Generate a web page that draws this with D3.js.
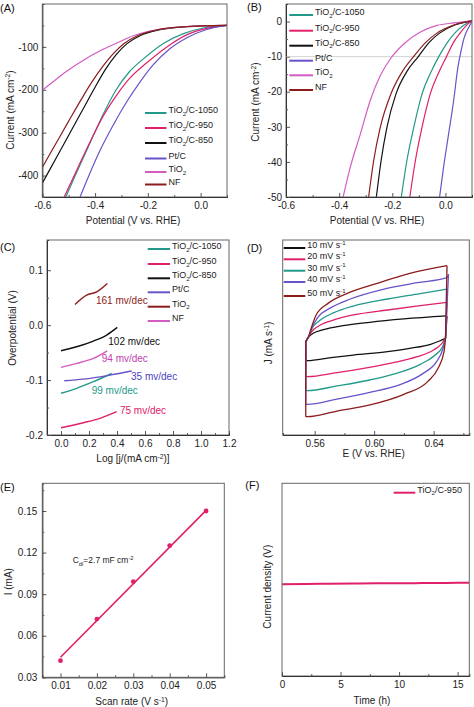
<!DOCTYPE html>
<html>
<head>
<meta charset="utf-8">
<script src="https://cdn.jsdelivr.net/npm/d3@7"></script>
<style>
  body { margin: 0; background: #fff; }
  svg { display: block; font-family: 'Liberation Sans', Arial, sans-serif; }
</style>
</head>
<body>
<svg id="chart" width="474" height="707"></svg>
<script>
// ======= data =======

// (A) LSV, potential (V vs RHE) / current (mA cm-2)
const lsvA1050 = [[-0.511,-450],[-0.47,-393],[-0.42,-325],[-0.37,-258],[-0.32,-200],[-0.27,-158],[-0.217,-128],[-0.141,-92],[-0.065,-69],[0.011,-56],[0.1,-50]]
const lsvA950 = [[-0.517,-450],[-0.47,-388],[-0.42,-323],[-0.37,-262],[-0.32,-214],[-0.27,-174],[-0.204,-137],[-0.128,-100],[-0.053,-72],[0.023,-57],[0.1,-50]]
const lsvA850 = [[-0.6,-418],[-0.55,-362],[-0.5,-306],[-0.45,-250],[-0.4,-194],[-0.36,-152],[-0.32,-118],[-0.28,-93],[-0.23,-74],[-0.154,-60],[-0.053,-53],[0.1,-50]]
const lsvAPtC = [[-0.457,-450],[-0.42,-395],[-0.38,-340],[-0.33,-281],[-0.28,-228],[-0.23,-182],[-0.18,-142],[-0.12,-106],[-0.05,-78],[0.02,-60],[0.1,-50]]
const lsvATiO2 = [[-0.6,-201],[-0.546,-175],[-0.508,-157],[-0.444,-131],[-0.381,-109],[-0.318,-91],[-0.255,-74],[-0.192,-63],[-0.128,-57],[-0.065,-53],[-0.002,-51],[0.1,-50]]
const lsvANF = [[-0.6,-381],[-0.55,-327],[-0.5,-273],[-0.45,-220],[-0.41,-180],[-0.37,-145],[-0.33,-115],[-0.29,-92],[-0.24,-74],[-0.166,-60],[-0.065,-53],[0.1,-50]]

// (B) zoomed LSV
const lsvB1050 = [[-0.166,-50],[-0.145,-39.6],[-0.119,-30.1],[-0.088,-20.6],[-0.052,-14],[-0.025,-10],[0.007,-6],[0.035,-3.3],[0.07,-1],[0.1,0.2]]
const lsvB950 = [[-0.134,-50],[-0.113,-39.6],[-0.088,-30.1],[-0.057,-20.6],[-0.022,-14],[0.004,-10],[0.03,-6],[0.055,-3.3],[0.08,-1],[0.1,0.2]]
const lsvB850 = [[-0.26,-50],[-0.242,-39.6],[-0.22,-30.1],[-0.186,-20.6],[-0.143,-14],[-0.102,-10],[-0.062,-6],[-0.022,-3.3],[0.035,-1],[0.1,0.2]]
const lsvBPtC = [[-0.022,-50],[-0.007,-41.5],[0.012,-32],[0.031,-22.5],[0.047,-13],[0.059,-8.3],[0.071,-4.5],[0.088,-1.6],[0.1,0]]
const lsvBTiO2 = [[-0.385,-50],[-0.358,-41.5],[-0.32,-32],[-0.283,-22.5],[-0.245,-15.4],[-0.207,-10.6],[-0.157,-6.4],[-0.094,-3],[-0.032,-1.1],[0.031,-0.4],[0.1,0.2]]
const lsvBNF = [[-0.289,-50],[-0.27,-39.6],[-0.245,-30.1],[-0.205,-20.6],[-0.16,-14],[-0.12,-10],[-0.075,-6],[-0.032,-3.3],[0.031,-1],[0.1,0.2]]

// (C) Tafel, log j / overpotential (V)
const tafel1050 = [[0,-0.124],[0.112,-0.115],[0.231,-0.103],[0.362,-0.088]]
const tafel950 = [[0,-0.1867],[0.16,-0.1776],[0.279,-0.1697],[0.398,-0.1576]]
const tafel850 = [[0,-0.0467],[0.112,-0.0394],[0.231,-0.029],[0.326,-0.018],[0.402,-0.004]]
const tafelPtC = [[0.024,-0.1012],[0.16,-0.0982],[0.35,-0.0909],[0.505,-0.0836]]
const tafelTiO2 = [[0.1,0.0376],[0.183,0.0545],[0.255,0.0606],[0.331,0.0758]]
const tafelNF = [[0,-0.077],[0.112,-0.0697],[0.231,-0.0606],[0.331,-0.0467]]
const tafelSlopes = ['161 mv/dec', '102 mv/dec', '94 mv/dec', '35 mv/dec', '99 mv/dec', '75 mv/dec']
const tafelSlopeAt = [[0.25,0.039],[0.338,-0.0355],[0.291,-0.067],[0.5,-0.0996],[0.219,-0.1245],[0.421,-0.162]]

// (D) CV loops, E (V vs RHE) / J (arb.)
const scanLabels = ['10', '20', '30', '40', '50']
const cv10Up = [[0.556,0.009],[0.559,0.043],[0.566,0.08],[0.579,0.121],[0.597,0.156],[0.62,0.19],[0.649,0.221]]
const cv10Down = [[0.554,-0.238],[0.555,-0.238],[0.571,-0.207],[0.586,-0.18],[0.609,-0.145],[0.624,-0.111],[0.638,-0.07],[0.644,-0.036],[0.648,-0.009]]
const cv20Up = [[0.556,0.009],[0.558,0.06],[0.563,0.121],[0.573,0.18],[0.586,0.231],[0.609,0.282],[0.631,0.327],[0.649,0.361]]
const cv20Down = [[0.554,-0.402],[0.555,-0.402],[0.575,-0.361],[0.593,-0.316],[0.613,-0.258],[0.629,-0.197],[0.64,-0.128],[0.645,-0.07],[0.648,-0.009]]
const cv30Up = [[0.556,0.009],[0.558,0.087],[0.563,0.169],[0.573,0.255],[0.586,0.323],[0.609,0.395],[0.631,0.45],[0.649,0.497]]
const cv30Down = [[0.554,-0.545],[0.555,-0.545],[0.575,-0.497],[0.597,-0.436],[0.615,-0.368],[0.631,-0.275],[0.641,-0.18],[0.646,-0.094],[0.648,-0.009]]
const cv40Up = [[0.556,0.009],[0.558,0.094],[0.562,0.203],[0.571,0.306],[0.584,0.395],[0.606,0.494],[0.629,0.562],[0.649,0.614],[0.65,0.648]]
const cv40Down = [[0.554,-0.686],[0.555,-0.686],[0.575,-0.631],[0.597,-0.562],[0.618,-0.48],[0.633,-0.368],[0.642,-0.248],[0.646,-0.128],[0.648,-0.009]]
const cv50Up = [[0.556,0.009],[0.558,0.111],[0.561,0.231],[0.569,0.35],[0.582,0.453],[0.602,0.556],[0.624,0.658],[0.649,0.737]]
const cv50Down = [[0.554,-0.812],[0.555,-0.812],[0.575,-0.754],[0.597,-0.692],[0.62,-0.583],[0.636,-0.453],[0.643,-0.316],[0.647,-0.145],[0.648,-0.009]]

// (E) capacitive current vs scan rate
const scanRates = [0.01, 0.02, 0.03, 0.04, 0.05]
const capCurrent = [0.042, 0.072, 0.099, 0.125, 0.15]
const capFit = [[0.01, 0.0445], [0.05, 0.1505]]

// (F) stability
const hours = [0, 2, 4, 6, 8, 10, 12, 14, 16]
const stability = [0.476, 0.478, 0.479, 0.48, 0.481, 0.481, 0.482, 0.483, 0.484]

const names = ['TiO2/C-1050', 'TiO2/C-950', 'TiO2/C-850', 'Pt/C', 'TiO2', 'NF']

// ======= styling =======
const teal = '#22998a', pink = '#e0206a', black = '#111', purple = '#6a52c8',
      magenta = '#d35cc2', darkred = '#8c1c1c'
const colorsAB = [teal, pink, black, purple, magenta, darkred]
const colorsC = [teal, pink, black, purple, darkred, magenta]
const font = "'Liberation Sans', Arial, sans-serif"

const svg = d3.select('#chart')
let clipCount = 0

// text with sub/superscripts, parts = strings or [str, 'sub'|'sup']
const rich = (sel, parts) => {
  let prev = 0
  parts.forEach(p => {
    const [str, kind] = typeof p === 'string' ? [p, null] : p
    const off = kind === 'sub' ? 2.5 : kind === 'sup' ? -3.5 : 0
    sel.append('tspan')
      .attr('dy', off - prev)
      .attr('font-size', kind ? '0.68em' : null)
      .text(str)
    prev = off
  })
  return sel
}
const nameParts = n => n.startsWith('TiO2') ? ['TiO', ['2', 'sub'], n.slice(4)] : [n]

const styleAxis = g => {
  g.select('.domain').remove()
  g.attr('font-family', font).attr('font-size', 10)
  g.selectAll('line').attr('stroke', '#555')
  g.selectAll('text').attr('fill', '#222')
}

// one framed panel with inward ticks
const panel = (box, xDomain, yDomain, o) => {
  const x = d3.scaleLinear().domain(xDomain).range([box.l, box.r])
  const y = d3.scaleLinear().domain(yDomain).range([box.b, box.t])
  const g = svg.append('g')

  const id = 'clip' + (++clipCount)
  g.append('clipPath').attr('id', id).append('rect')
    .attr('x', box.l).attr('y', box.t)
    .attr('width', box.r - box.l).attr('height', box.b - box.t)

  const xAx = g.append('g').attr('transform', `translate(0,${box.b})`)
  xAx.call(d3.axisBottom(x).tickValues(o.xTicks).tickSize(-4).tickPadding(5).tickFormat(o.xFmt))
  if (o.xMinor) xAx.append('g').call(d3.axisBottom(x).tickValues(o.xMinor).tickSize(-2).tickFormat(''))
  xAx.call(styleAxis)

  if (o.yTicks) {
    const yAx = g.append('g').attr('transform', `translate(${box.l},0)`)
    yAx.call(d3.axisLeft(y).tickValues(o.yTicks).tickSize(-4).tickPadding(o.yPad || 4).tickFormat(o.yFmt))
    if (o.yMinor) yAx.append('g').call(d3.axisLeft(y).tickValues(o.yMinor).tickSize(-2).tickFormat(''))
    yAx.call(styleAxis)
  }

  const plot = g.append('g').attr('clip-path', `url(#${id})`)

  g.append('rect')
    .attr('x', box.l).attr('y', box.t)
    .attr('width', box.r - box.l).attr('height', box.b - box.t)
    .attr('fill', 'none').attr('stroke', '#666').attr('stroke-width', 1)

  // titles
  rich(g.append('text').attr('x', o.xTitle[0]).attr('y', o.xTitle[1])
    .attr('text-anchor', 'middle').attr('font-size', 10).attr('fill', '#222'), o.xTitle[2])
  rich(g.append('text')
    .attr('transform', `translate(${o.yTitle[0]},${o.yTitle[1]}) rotate(-90)`)
    .attr('text-anchor', 'middle').attr('font-size', 10).attr('fill', '#222'), o.yTitle[2])
  g.append('text').attr('x', o.tag[0]).attr('y', o.tag[1])
    .attr('font-size', 11).attr('fill', '#111').text(o.tag[2])

  return { x, y, g, plot }
}

const legend = (g, items, x1, x2, ys, fs) => {
  items.forEach((it, i) => {
    g.append('line').attr('x1', x1).attr('x2', x2).attr('y1', ys[i]).attr('y2', ys[i])
      .attr('stroke', it.color).attr('stroke-width', 2)
    rich(g.append('text').attr('x', x2 + 2).attr('y', ys[i]).attr('dy', '0.35em')
      .attr('font-size', fs).attr('fill', '#222'), it.parts)
  })
}

const drawLines = (p, sets, colors, width) => {
  const line = d3.line().x(d => p.x(d[0])).y(d => p.y(d[1])).curve(d3.curveMonotoneX)
  sets.forEach((s, i) => p.plot.append('path').attr('d', line(s))
    .attr('fill', 'none').attr('stroke', colors[i]).attr('stroke-width', width))
}

const fx1 = d => d.toFixed(1)
const fx2 = d => d.toFixed(2)

// ---- (A) ----
const pA = panel({ l: 42.3, r: 227, t: 4, b: 197 }, [-0.6, 0.1], [-450, 0], {
  xTicks: [-0.6, -0.4, -0.2, 0], xMinor: [-0.5, -0.3, -0.1, 0.1], xFmt: fx1,
  yTicks: [-400, -300, -200, -100], yMinor: [-450, -350, -250, -150, -50], yFmt: d => d,
  xTitle: [133, 224, ['Potential (V vs. RHE)']],
  yTitle: [13.5, 110, ['Current (mA cm', ['-2', 'sup'], ')']],
  tag: [0, 12, '(A)']
})
drawLines(pA, [lsvA1050, lsvA950, lsvA850, lsvAPtC, lsvATiO2, lsvANF], colorsAB, 1.2)
legend(pA.g, names.map((n, i) => ({ parts: nameParts(n), color: colorsAB[i] })),
  145, 166.5, [113, 128, 143, 158.5, 172, 184.5], 9)

// ---- (B) ----
const pB = panel({ l: 286, r: 472, t: 4, b: 197 }, [-0.6, 0.1], [-50, 5], {
  xTicks: [-0.6, -0.4, -0.2, 0], xMinor: [-0.5, -0.3, -0.1], xFmt: fx1,
  yTicks: [-50, -40, -30, -20, -10, 0], yMinor: [-45, -35, -25, -15, -5], yFmt: d => d,
  xTitle: [377, 224, ['Potential (V vs. RHE)']],
  yTitle: [259, 102, ['Current (mA cm', ['-2', 'sup'], ')']],
  tag: [247, 11, '(B)']
})
pB.plot.append('line')
  .attr('x1', pB.x(-0.6)).attr('x2', pB.x(0.1)).attr('y1', pB.y(-10)).attr('y2', pB.y(-10))
  .attr('stroke', '#c8c8c8').attr('stroke-width', 0.8)
drawLines(pB, [lsvB1050, lsvB950, lsvB850, lsvBPtC, lsvBTiO2, lsvBNF], colorsAB, 1.2)
legend(pB.g, names.map((n, i) => ({ parts: nameParts(n), color: colorsAB[i] })),
  289.3, 313, [15, 30.7, 45.7, 60.7, 75.3, 90], 9)

// ---- (C) ----
const pC = panel({ l: 47, r: 229, t: 240, b: 435 }, [-0.1, 1.2], [-0.2, 0.155], {
  xTicks: d3.range(0, 1.21, 0.2), xMinor: d3.range(0.1, 1.2, 0.2), xFmt: fx1,
  yTicks: [-0.2, -0.1, 0, 0.1], yMinor: [-0.15, -0.05, 0.05], yFmt: fx1,
  xTitle: [133, 462, ['Log [j/(mA cm', ['-2', 'sup'], ')]']],
  yTitle: [16, 328, ['Overpotential (V)']],
  tag: [0, 250.5, '(C)']
})
drawLines(pC, [tafel1050, tafel950, tafel850, tafelPtC, tafelTiO2, tafelNF], colorsC, 1.4)
const slopeColors = [darkred, black, '#c23cb2', '#4b41c2', teal, pink]
tafelSlopes.forEach((s, i) => pC.g.append('text')
  .attr('x', pC.x(tafelSlopeAt[i][0])).attr('y', pC.y(tafelSlopeAt[i][1]))
  .attr('font-size', 10).attr('fill', slopeColors[i]).text(s))
legend(pC.g, names.map((n, i) => ({ parts: nameParts(n), color: colorsC[i] })),
  147.7, 170, [249, 264, 278.3, 292.3, 306.7, 321], 9)

// ---- (D) ----
const pD = panel({ l: 282.7, r: 469.3, t: 240, b: 435 }, [0.5385, 0.664], [-1, 1], {
  xTicks: [0.56, 0.6, 0.64], xMinor: [0.58, 0.62, 0.66], xFmt: fx2,
  xTitle: [373.7, 457, ['E (V vs. RHE)']],
  yTitle: [272, 343, ['J (mA s', ['-1', 'sup'], ')']],
  tag: [247, 252, '(D)']
})
const cvColors = [black, pink, teal, purple, darkred]
const cvLoops = [[cv10Up, cv10Down], [cv20Up, cv20Down], [cv30Up, cv30Down], [cv40Up, cv40Down], [cv50Up, cv50Down]]
const cvLine = d3.line().x(d => pD.x(d[0])).y(d => pD.y(d[1])).curve(d3.curveMonotoneX)
const cvEdge = d3.line().x(d => pD.x(d[0])).y(d => pD.y(d[1]))
cvLoops.forEach(([up, down], i) => {
  const paths = [
    cvLine(up), cvLine(down),
    cvEdge([down[0], [down[0][0], -0.043], up[0]]),
    cvEdge([up[up.length - 1], down[down.length - 1]])
  ]
  paths.forEach(d => pD.plot.append('path').attr('d', d)
    .attr('fill', 'none').attr('stroke', cvColors[i]).attr('stroke-width', 1.3))
})
legend(pD.g, scanLabels.map((s, i) => ({ parts: [s + ' mV s', ['-1', 'sup']], color: cvColors[i] })),
  283.7, 305.3, [248, 259.3, 270.7, 282, 296], 9)

// ---- (E) ----
const pE = panel({ l: 42.3, r: 224.3, t: 483.3, b: 677.3 }, [0.005, 0.055], [0.03, 0.17], {
  xTicks: scanRates, xMinor: [0.015, 0.025, 0.035, 0.045], xFmt: fx2,
  yTicks: [0.03, 0.06, 0.09, 0.12, 0.15], yMinor: [0.045, 0.075, 0.105, 0.135, 0.165], yFmt: fx2, yPad: 5,
  xTitle: [131.7, 705, ['Scan rate (V s', ['-1', 'sup'], ')']],
  yTitle: [11.8, 581.7, ['I (mA)']],
  tag: [0, 490.5, '(E)']
})
drawLines(pE, [capFit], [pink], 1.6)
pE.plot.selectAll('circle').data(scanRates).join('circle')
  .attr('cx', d => pE.x(d)).attr('cy', (d, i) => pE.y(capCurrent[i]))
  .attr('r', 2.4).attr('fill', pink)
rich(pE.g.append('text').attr('x', 72.7).attr('y', 563).attr('font-size', 8.5).attr('fill', '#222'),
  ['C', ['dl', 'sub'], '=2.7 mF cm', ['-2', 'sup']])

// ---- (F) ----
const pF = panel({ l: 282, r: 469.3, t: 483.3, b: 676 }, [0, 16], [0, 1], {
  xTicks: [0, 5, 10, 15], xMinor: [2.5, 7.5, 12.5], xFmt: d => d,
  xTitle: [372, 703.5, ['Time (h)']],
  yTitle: [271, 586.7, ['Current density (V)']],
  tag: [245.3, 489, '(F)']
})
drawLines(pF, [hours.map((h, i) => [h, stability[i]])], [pink], 2)
legend(pF.g, [{ parts: nameParts('TiO2/C-950'), color: pink }], 393.7, 415.3, [492.7], 9)
</script>
</body>
</html>
